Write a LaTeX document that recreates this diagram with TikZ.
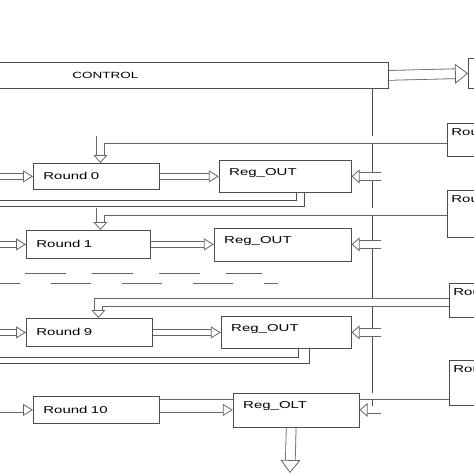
\documentclass[tikz,border=0pt]{standalone}
\usepackage{fontspec}
\newfontfamily\diagfont[FakeStretch=1.5]{Liberation Sans}
\usetikzlibrary{arrows.meta,positioning,backgrounds}

\begin{document}
\begin{tikzpicture}[
    x=1pt, y=-1pt,
    blk/.style={rectangle, draw=black!70, fill=white, line width=0.8pt, inner xsep=10pt, align=left, font=\diagfont\fontsize{10}{12}\selectfont},
    regbox/.style={blk, text height=8pt, text depth=10pt, minimum height=32pt},
    keybox/.style={blk, anchor=north west, inner sep=4pt, text height=8pt, text width=80pt, text depth=#1},
    wire/.style={draw=black!70, line width=0.8pt},
    hol/.style={draw=black!60, line width=0.8pt, double=white, double distance=5pt, -{Triangle[open, length=10pt, width=12pt]}},
    downarrow/.style={hol, double distance=7pt, -{Triangle[open, length=8pt, width=14pt]}},
    bigarrow/.style={hol, double distance=9pt, -{Triangle[open, length=13pt, width=20pt]}},
    dbl/.style={draw=black!60, line width=0.8pt, double=white, double distance=6pt}
]
    \useasboundingbox (0,0) rectangle (474,474);
    \clip (0,0) rectangle (474,474);

    % Control
    \node[blk, anchor=north west, minimum height=26pt, text width=234pt, inner xsep=82pt, font=\diagfont\fontsize{9}{11}\selectfont] (ctrl) at (-10,62) {CONTROL};
    \node[blk, anchor=north west, minimum width=20pt, minimum height=30pt] (outbox) at (468,58) {};

    % Rounds
    \node[blk, anchor=north west, text width=106pt, minimum height=26pt] (rnd0) at (33,163) {Round 0};
    \node[blk, anchor=north west, text width=104pt, minimum height=28pt] (rnd1) at (26,230) {Round 1};
    \node[blk, anchor=north west, text width=106pt, minimum height=28pt] (rnd9) at (26,318) {Round 9};
    \node[blk, anchor=north west, text width=106pt, minimum height=27pt] (rnd10) at (33,396) {Round 10};

    % Output registers
    \node[regbox, text width=112pt, right=59pt of rnd0] (reg0) {Reg\_OUT};
    \node[regbox, text width=117pt, minimum height=33pt, right=63pt of rnd1] (reg1) {Reg\_OUT};
    \node[regbox, text width=110pt, right=68pt of rnd9] (reg9) {Reg\_OUT};
    \node[regbox, text width=106pt, minimum height=34pt, right=73pt of rnd10] (reg10) {Reg\_OLT};

    % Round keys
    \node[keybox=17pt] (rk0) at (447,123) {Round Key};
    \node[keybox=31pt] (rk1) at (447,190) {Round Key};
    \node[keybox=18pt] (rk2) at (449,283) {Round Key};
    \node[keybox=29pt] (rk3) at (449,360) {Round Key};

    \coordinate (busT) at (372,88);
    \coordinate (busB) at (372,408);
    \coordinate (lft) at (-2,0);
    \coordinate (fb0a) at (-2,200);
    \coordinate (fb0b) at (-2,206);
    \coordinate (fb9a) at (-2,357);
    \coordinate (fb9b) at (-2,363);
    \coordinate (out) at (290,473);

    \begin{scope}[on background layer]
    % Bus and key lines
    \draw[wire] (busT) -- (busB);
    \draw[downarrow] (rk0.west) -| ([xshift=4pt]rnd0.north);
    \draw[downarrow] ([yshift=2pt]rk1.west) -| ([xshift=12pt]rnd1.north);
    \draw[downarrow] ([yshift=-2pt]rk2.west) -| ([xshift=9pt]rnd9.north);
    \draw[dbl] ([yshift=-13.5pt]rk3.west) -| ([xshift=1pt]rnd10.north);

    % Data path
    \draw[bigarrow] (ctrl.east) -- (outbox.west);
    \foreach \r in {0,1,9,10} {
        \draw[hol] (lft |- rnd\r.west) -- (rnd\r.west);
        \draw[hol] (rnd\r.east) -- (rnd\r.east -| reg\r.west);
        \draw[downarrow] ([xshift=9pt]busT |- reg\r.east) -- (reg\r.east);
    }

    % Feedback
    \draw[wire] ([xshift=11pt]reg0.south) |- (fb0a);
    \draw[wire] ([xshift=19pt]reg0.south) |- (fb0b);
    \draw[wire] ([xshift=12pt]reg9.south) |- (fb9a);
    \draw[wire] ([xshift=23pt]reg9.south) |- (fb9b);
    \draw[bigarrow] ([xshift=-5pt]reg10.south) -- (out);
    \end{scope}

    % Omitted rounds
    \draw[wire, draw=black!60, dash pattern=on 41pt off 26pt] (25,273) -- (262,273);
    \draw[wire, draw=black!60, dash pattern=on 40pt off 31pt, dash phase=20pt] (0,283) -- (278,283);
\end{tikzpicture}
\end{document}
